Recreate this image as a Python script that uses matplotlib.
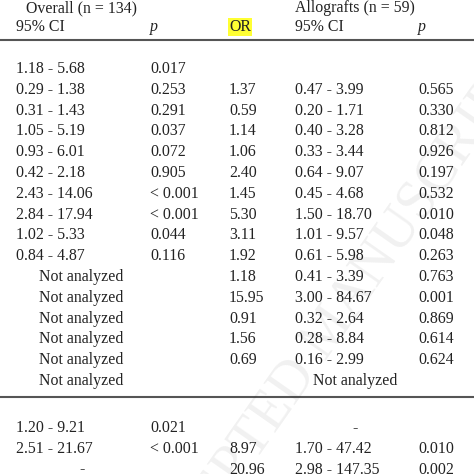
import matplotlib
matplotlib.use("Agg")
import matplotlib.pyplot as plt

overall_ci = ["1.18 - 5.68","0.29 - 1.38","0.31 - 1.43","1.05 - 5.19","0.93 - 6.01","0.42 - 2.18",
              "2.43 - 14.06","2.84 - 17.94","1.02 - 5.33","0.84 - 4.87",
              "Not analyzed","Not analyzed","Not analyzed","Not analyzed","Not analyzed","Not analyzed"]
overall_p = ["0.017","0.253","0.291","0.037","0.072","0.905","< 0.001","< 0.001","0.044","0.116","","","","","",""]
allo_or = ["","1.37","0.59","1.14","1.06","2.40","1.45","5.30","3.11","1.92","1.18","15.95","0.91","1.56","0.69",""]
allo_ci = ["","0.47 - 3.99","0.20 - 1.71","0.40 - 3.28","0.33 - 3.44","0.64 - 9.07","0.45 - 4.68","1.50 - 18.70",
           "1.01 - 9.57","0.61 - 5.98","0.41 - 3.39","3.00 - 84.67","0.32 - 2.64","0.28 - 8.84","0.16 - 2.99","Not analyzed"]
allo_p = ["","0.565","0.330","0.812","0.926","0.197","0.532","0.010","0.048","0.263","0.763","0.001","0.869","0.614","0.624",""]

b_overall_ci = ["1.20 - 9.21","2.51 - 21.67","-"]
b_overall_p = ["0.021","< 0.001",""]
b_or = ["","8.97","20.96"]
b_ci = ["-","1.70 - 47.42","2.98 - 147.35"]
b_p = ["","0.010","0.002"]

fig = plt.figure(figsize=(4.74,4.74), dpi=100)
ax = fig.add_axes([0,0,1,1])
ax.set_xlim(0,474); ax.set_ylim(474,0); ax.axis("off")
fs = 11.4
kw = dict(fontsize=fs, family="Liberation Serif", va="center", color="#222222")

ax.text(26, 8, "Overall (n = 134)", **kw)
ax.text(295, 8, "Allografts (n = 59)", **kw)
ax.text(16, 27, "95% CI", **kw)
ax.text(150, 27, "p", style="italic", **kw)
ax.text(229, 27, "OR", bbox=dict(facecolor="#ffff33", edgecolor="none", pad=1), **kw)
ax.text(295, 27, "95% CI", **kw)
ax.text(418, 27, "p", style="italic", **kw)
ax.plot([0,474],[39.5,39.5], color="#555555", lw=1.5)
ax.plot([0,474],[397,397], color="#555555", lw=1.5)

def row(y, ci, p, orv, aci, ap):
    if ci == "Not analyzed":
        ax.text(39, y, ci, **kw)
    elif ci == "-":
        ax.text(82, y, ci, ha="center", **kw)
    else:
        ax.text(16, y, ci, **kw)
    ax.text(150, y, p, **kw)
    ax.text(229, y, orv, **kw)
    if aci in ("Not analyzed", "-"):
        ax.text(355, y, aci, ha="center", **kw)
    else:
        ax.text(295, y, aci, **kw)
    ax.text(418, y, ap, **kw)

for i in range(len(overall_ci)):
    row(69 + i*20.8, overall_ci[i], overall_p[i], allo_or[i], allo_ci[i], allo_p[i])
for i in range(len(b_overall_ci)):
    row(428 + i*20.8, b_overall_ci[i], b_overall_p[i], b_or[i], b_ci[i], b_p[i])

ax.text(330, 330, "ACCEPTED MANUSCRIPT", rotation=55, fontsize=40, family="Liberation Serif",
        color="#000000", alpha=0.06, ha="center", va="center")

fig.savefig("out.png", dpi=100)
